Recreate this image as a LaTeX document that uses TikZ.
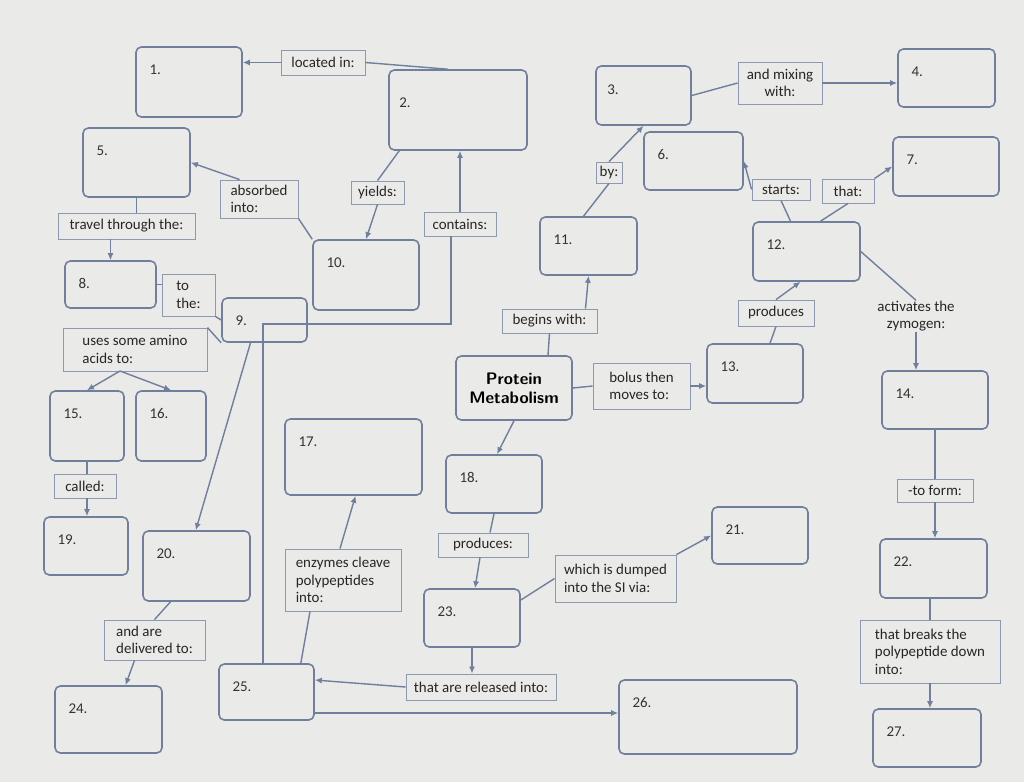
\documentclass[tikz,border=0pt]{standalone}
\usepackage{fontspec}
\setmainfont{Carlito}
\usetikzlibrary{arrows.meta}
\definecolor{bc}{HTML}{6F7F9C}
\definecolor{bg}{HTML}{EAEAE8}
\tikzset{
 box/.style={draw=bc,line width=0.9pt,rounded corners=3pt,inner sep=0pt},
 lab/.style={draw=bc!80,line width=0.5pt,inner sep=0pt,font=\fontsize{8.5}{10}\selectfont,align=left,text=black!85},
 num/.style={font=\fontsize{8.5}{10}\selectfont,text=black!80,inner sep=0pt},
 con/.style={draw=bc,line width=0.8pt},
 arr/.style={con,-{Latex[length=4pt,width=3.5pt]}}
}
\newcommand\bx[6]{\node[box,minimum width={(#4-#2)*0.02cm},minimum height={(#5-#3)*0.02cm}] (#1) at ({(#2+#4)/2},{(#3+#5)/2}) {};
 \node[num,anchor=north west] at ([shift={(14,18)}]#1.north west) {#6};}
\newcommand\lb[6]{\node[lab,minimum width={(#4-#2)*0.02cm},minimum height={(#5-#3)*0.02cm}] (#1) at ({(#2+#4)/2},{(#3+#5)/2}) {#6};}
\begin{document}
\begin{tikzpicture}[x=0.02cm,y=-0.02cm]
\fill[bg] (0,0) rectangle (1024,782);
\useasboundingbox (0,0) rectangle (1024,782);
\bx{n1}{136}{47}{242}{117}{1.}
\bx{n2}{389}{70}{527}{150}{}\node[num] at (405,103) {2.};
\bx{n3}{596}{66}{691}{125}{}\node[num] at (613,90) {3.};
\bx{n4}{898}{49}{995}{107}{4.}
\bx{n5}{83}{128}{190}{197}{5.}
\bx{n6}{644}{132}{743}{190}{6.}
\bx{n7}{893}{137}{999}{196}{7.}
\bx{n8}{65}{261}{156}{308}{8.}
\bx{n9}{222}{298}{307}{342}{9.}
\bx{n10}{313}{240}{419}{310}{10.}
\bx{n11}{540}{217}{637}{275}{11.}
\bx{n12}{753}{222}{860}{281}{12.}
\bx{n13}{707}{344}{803}{403}{13.}
\bx{n14}{882}{371}{988}{429}{14.}
\bx{n15}{50}{391}{124}{461}{15.}
\bx{n16}{136}{391}{206}{461}{16.}
\bx{n17}{285}{419}{422}{495}{17.}
\bx{n18}{446}{455}{542}{513}{18.}
\bx{n19}{44}{517}{128}{575}{19.}
\bx{n20}{143}{531}{250}{601}{20.}
\bx{n21}{712}{507}{808}{564}{21.}
\bx{n22}{880}{539}{987}{598}{22.}
\bx{n23}{424}{589}{520}{647}{23.}
\bx{n24}{55}{686}{162}{753}{24.}
\bx{n25}{219}{664}{314}{720}{25.}
\bx{n26}{619}{680}{797}{754}{26.}
\bx{n27}{873}{709}{981}{767}{27.}
\node[box,minimum width=2.32cm,minimum height=1.28cm,align=center,font=\sffamily\bfseries\fontsize{9.5}{11}\selectfont] (pm) at (514,388) {Protein\\Metabolism};
\lb{located}{281}{50}{365}{75}{located in:}
\node[lab,align=center,minimum width=1.68cm,minimum height=0.84cm] (mixing) at (780,83) {and mixing\\with:};
\lb{by}{596}{162}{622}{183}{by:}
\lb{absorbed}{220}{180}{298}{218}{absorbed\\into:}
\lb{yields}{351}{181}{404}{204}{yields:}
\lb{starts}{752}{179}{810}{200}{starts:}
\lb{that}{822}{179}{874}{203}{that:}
\lb{travel}{58}{213}{195}{239}{travel through the:}
\lb{contains}{424}{212}{496}{236}{contains:}
\lb{tothe}{162}{274}{215}{316}{to\\the:}
\lb{uses}{63}{328}{207}{371}{uses some amino\\acids to:}
\lb{begins}{502}{309}{597}{333}{begins with:}
\lb{produces}{738}{300}{814}{326}{produces}
\node[lab,draw=none,align=center] (activates) at (916,316) {activates the\\zymogen:};
\lb{bolus}{593}{363}{690}{409}{bolus then\\moves to:}
\lb{called}{54}{474}{116}{498}{called:}
\lb{toform}{897}{479}{973}{502}{-to form:}
\lb{produces2}{438}{533}{528}{557}{produces:}
\lb{enzymes}{285}{549}{401}{611}{enzymes cleave\\polypeptides\\into:}
\lb{dumped}{555}{555}{676}{602}{which is dumped\\into the SI via:}
\lb{delivered}{104}{620}{205}{660}{and are\\delivered to:}
\lb{breaks}{860}{620}{1000}{683}{that breaks the\\polypeptide down\\into:}
\lb{released}{406}{674}{556}{700}{that are released into:}
% connectors
\draw[arr] (located.west) -- (n1.east |- located.west);
\draw[con] (located.east) -- ([shift={(-80,0)}]n2.north east);
\draw[con] (n3.east) -- (mixing.west);
\draw[arr] (mixing.east) -- (n4.west |- mixing.east);
\draw[con] ([shift={(-5,0)}]n11.north) -- (by.south);
\draw[arr] (by.north) -- (n3.south);
\draw[con] ([shift={(11,0)}]n2.south west) -- (yields.north);
\draw[arr] (yields.south) -- (n10.north);
\draw[arr] (contains.north) -- (contains.north |- n2.south);
\coordinate (c1) at (451,324); \coordinate (c2) at (263,324);
\draw[con] (contains.south -| c1) -- (c1) -- (c2) -- (c2 |- n25.north);
\draw[con] (n10.north west) -- (absorbed.south east);
\draw[arr] ([shift={(20,0)}]absorbed.north west) -- (n5.east);
\draw[con] (n5.south) -- (n5.south |- travel.north);
\draw[arr] (travel.south -| n8.north) -- (n8.north);
\draw[con] (n8.east) -- (tothe.west |- n8.east);
\draw[con] (tothe.south east) -- (n9.west);
\draw[con] (n9.south west) -- (uses.north east);
\coordinate (br) at (120,371);
\draw[arr] (br) -- (n15.north); \draw[arr] (br) -- (n16.north);
\draw[con] (n15.south) -- (called.north -| n15.south);
\draw[arr] (called.south -| n15.south) -- (n19.north -| n15.south);
\draw[arr] ([shift={(-14,0)}]n9.south) -- ([shift={(-55,0)}]n20.north east);
\draw[con] ([shift={(-26,0)}]n20.south) -- (delivered.north);
\draw[arr] ([shift={(-20,0)}]delivered.south) -- ([shift={(17,0)}]n24.north);
\draw[con] ([shift={(34,0)}]pm.north) -- (begins.south);
\draw[arr] ([shift={(36,0)}]begins.north) -- (n11.south);
\draw[con] (pm.east) -- (bolus.west);
\draw[arr] (bolus.east) -- (n13.west |- bolus.east);
\draw[arr] (pm.south) -- ([shift={(3,0)}]n18.north);
\draw[con] ([shift={(15,0)}]n13.north) -- (produces.south);
\draw[arr] (produces.north) -- ([shift={(-6,0)}]n12.south);
\draw[con] ([shift={(-16,0)}]n12.north) -- (starts.south);
\draw[arr] (starts.west) -- (n6.east);
\draw[con] ([shift={(14,0)}]n12.north) -- (that.south);
\draw[arr] (that.north east) -- (n7.west);
\draw[con] (n12.east) -- (activates.north);
\draw[arr] (activates.south) -- (n14.north -| activates.south);
\draw[con] (n14.south -| toform.north) -- (toform.north);
\draw[arr] (toform.south) -- (n22.north -| toform.south);
\draw[con] (n22.south -| breaks.north) -- (breaks.north);
\draw[arr] (breaks.south) -- (n27.north -| breaks.south);
\draw[con] (n18.south) -- ([shift={(7,0)}]produces2.north);
\draw[arr] ([shift={(-3,0)}]produces2.south) -- ([shift={(3,0)}]n23.north);
\draw[con] ([shift={(0,-18)}]n23.east) -- (dumped.west);
\draw[arr] (dumped.north east) -- (n21.west);
\draw[arr] (n23.south) -- (released.north -| n23.south);
\draw[arr] (released.west) -- ([shift={(0,-12)}]n25.east);
\draw[arr] ([shift={(0,21)}]n25.east) -- ([shift={(0,21)}]n25.east -| n26.west);
\draw[con] ([shift={(-14,0)}]n25.north east) -- ([shift={(-33,0)}]enzymes.south);
\draw[arr] ([shift={(-3,0)}]enzymes.north) -- ([shift={(2,0)}]n17.south);
\end{tikzpicture}
\end{document}
